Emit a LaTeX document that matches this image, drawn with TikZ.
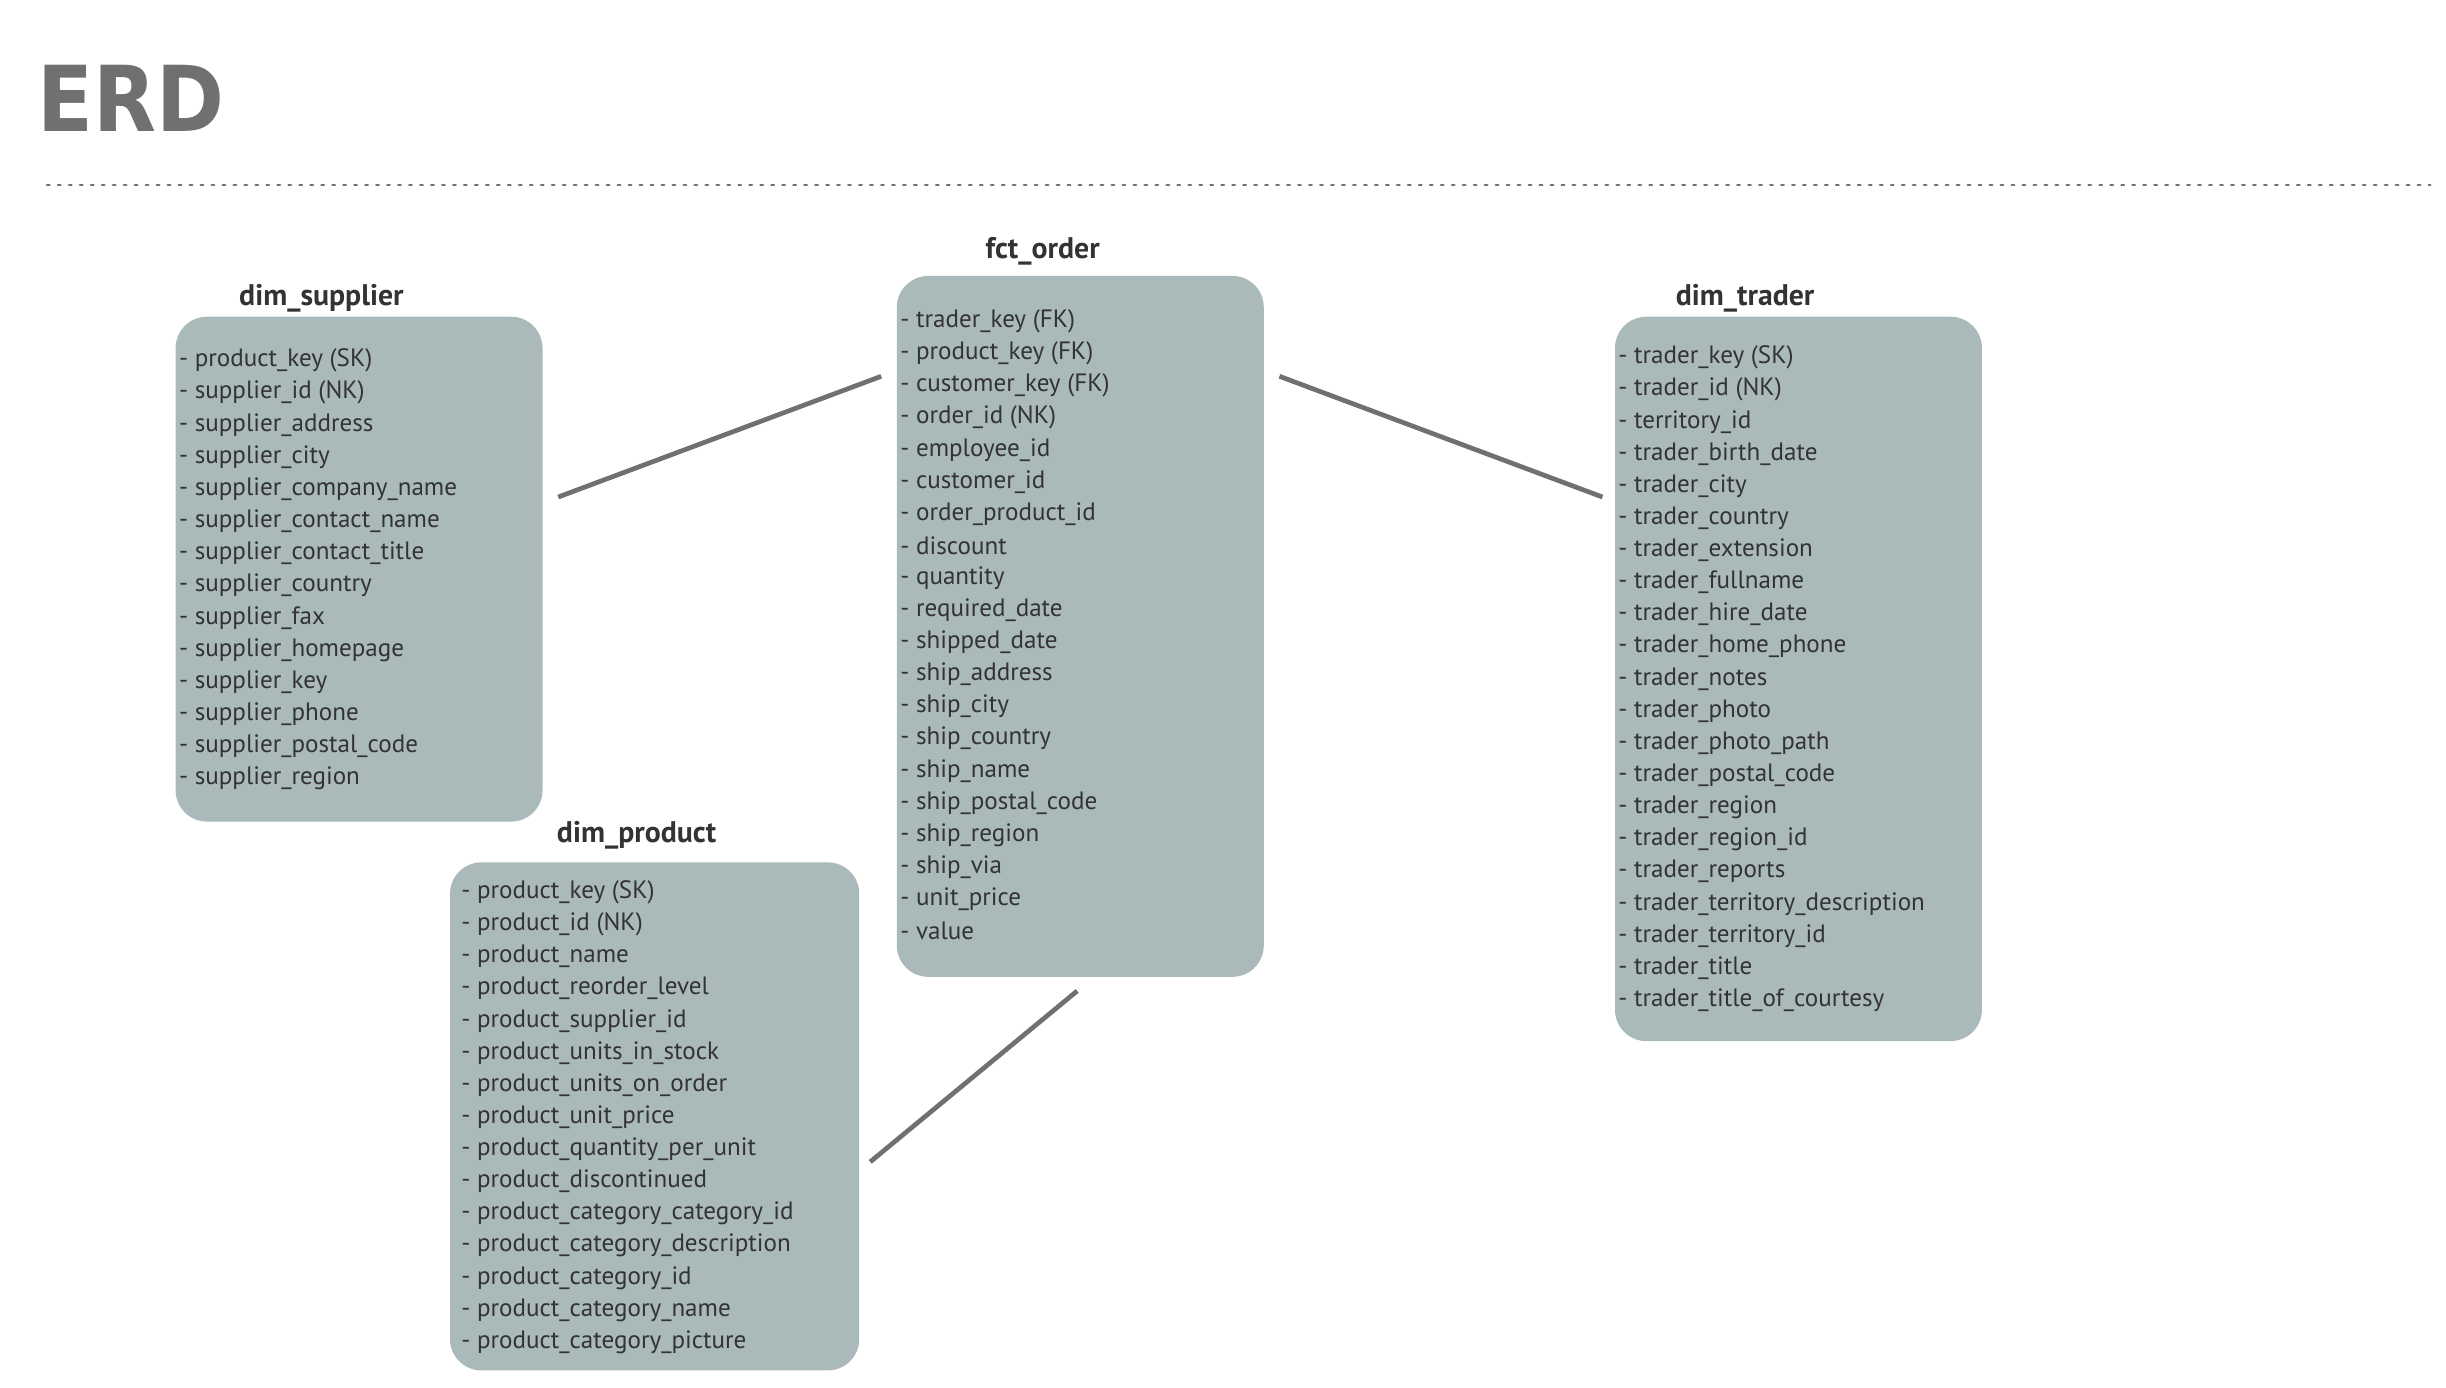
\documentclass[tikz,border=0pt]{standalone}
\usepackage{fontspec}
\setmainfont{PT Sans}
\newfontfamily\titlefont{DejaVu Sans Condensed}
\definecolor{boxc}{HTML}{AAB9B9}
\definecolor{txt}{HTML}{333333}
\definecolor{linec}{HTML}{707070}
\begin{document}
\begin{tikzpicture}[x=1pt,y=-1pt,
  tbl/.style={fill=boxc,rounded corners=20pt},
  row/.style={anchor=west,inner sep=0,text=txt,font=\fontsize{16}{18}\selectfont},
  ttl/.style={inner sep=0,text=txt,font=\fontsize{19}{22}\selectfont\bfseries},
  conn/.style={draw=linec,line width=3pt}]
\useasboundingbox[fill=white] (0,0) rectangle (1560,885);
\node[anchor=west,inner sep=0,text=linec,font=\titlefont\bfseries\fontsize{58}{60}\selectfont] (erd) at (24,63) {ERD};
\coordinate (d1) at (30,118); \coordinate (d2) at (1550,118);
\draw[linec,line width=1.6pt,dash pattern=on 1.6pt off 5.4pt,line cap=round] (d1) -- (d2);
% boxes
\path[tbl] (112,202) rectangle (346,524) node[pos=0] (sup) {};
\path[tbl] (572,176) rectangle (806,623);
\path[tbl] (1030,202) rectangle (1264,664);
\path[tbl] (287,550) rectangle (548,874);
\node[ttl] (tsup) at (205,190) {dim\_supplier};
\node[ttl] (tord) at (665,160) {fct\_order};
\node[ttl] (ttra) at (1113,190) {dim\_trader};
\node[ttl] (tpro) at (406,533) {dim\_product};
\foreach \t [count=\i from 0] in {product\_key (SK),supplier\_id (NK),supplier\_address,supplier\_city,supplier\_company\_name,supplier\_contact\_name,supplier\_contact\_title,supplier\_country,supplier\_fax,supplier\_homepage,supplier\_key,supplier\_phone,supplier\_postal\_code,supplier\_region}
  \node[row] (s\i) at (114,230+20.5*\i) {- \t};
\foreach \t [count=\i from 0] in {trader\_key (FK),product\_key (FK),customer\_key (FK),order\_id (NK),employee\_id,customer\_id,order\_product\_id,discount,quantity,required\_date,shipped\_date,ship\_address,ship\_city,ship\_country,ship\_name,ship\_postal\_code,ship\_region,ship\_via,unit\_price,value}
  \node[row] (o\i) at (574,205+20.47*\i) {- \t};
\foreach \t [count=\i from 0] in {trader\_key (SK),trader\_id (NK),territory\_id,trader\_birth\_date,trader\_city,trader\_country,trader\_extension,trader\_fullname,trader\_hire\_date,trader\_home\_phone,trader\_notes,trader\_photo,trader\_photo\_path,trader\_postal\_code,trader\_region,trader\_region\_id,trader\_reports,trader\_territory\_description,trader\_territory\_id,trader\_title,trader\_title\_of\_courtesy}
  \node[row] (t\i) at (1032,228+20.5*\i) {- \t};
\foreach \t [count=\i from 0] in {product\_key (SK),product\_id (NK),product\_name,product\_reorder\_level,product\_supplier\_id,product\_units\_in\_stock,product\_units\_on\_order,product\_unit\_price,product\_quantity\_per\_unit,product\_discontinued,product\_category\_category\_id,product\_category\_description,product\_category\_id,product\_category\_name,product\_category\_picture}
  \node[row] (p\i) at (294,569+20.5*\i) {- \t};
% connectors
\coordinate (a1) at (356,317); \coordinate (a2) at (562,240);
\coordinate (b1) at (816,240); \coordinate (b2) at (1022,317);
\coordinate (c1) at (555,741); \coordinate (c2) at (687,632);
\draw[conn] (a1) -- (a2);
\draw[conn] (b1) -- (b2);
\draw[conn] (c1) -- (c2);
\end{tikzpicture}
\end{document}
